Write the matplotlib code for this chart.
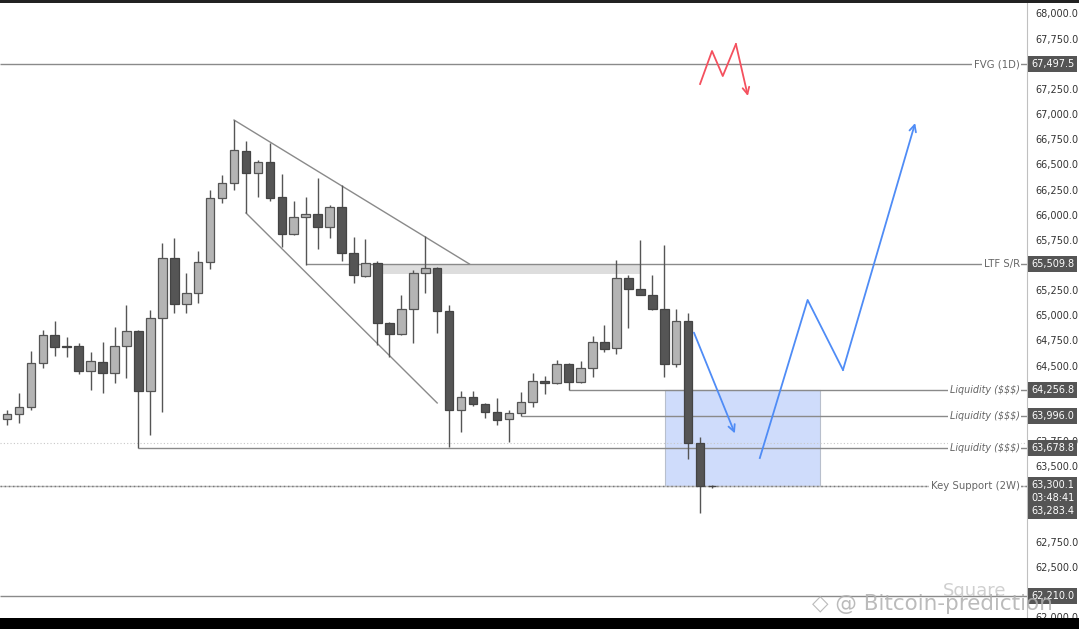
import numpy as np
import matplotlib.pyplot as plt
from matplotlib.transforms import blended_transform_factory
from matplotlib.patches import Rectangle

# -------------------- CANDLES --------------------
opens = [63970, 64019, 64089, 64526, 64805, 64695, 64695, 64447, 64536, 64427,
         64695, 64844, 64248, 64974, 65570, 65113, 65222, 65530, 66166, 66315,
         66633, 66415, 66524, 66176, 65808, 65977, 66007, 65878, 66077, 65620,
         65391, 65520, 64924, 64815, 65063, 65421, 65470, 65043, 64059, 64188,
         64119, 64039, 63970, 64029, 64139, 64347, 64328, 64516, 64337, 64477,
         64735, 64675, 65371, 65262, 65202, 65063, 64516, 64944, 63731, 63304]
highs = [64059, 64228, 64646, 64854, 64944, 64785, 64725, 64636, 64735, 64884,
         65103, 64850, 65053, 65719, 65769, 65421, 65639, 66246, 66395, 66941,
         66733, 66544, 66713, 66405, 66136, 66176, 66365, 66097, 66295, 65779,
         65759, 65540, 64934, 65202, 65451, 65788, 65480, 65103, 64248, 64248,
         64129, 64178, 64059, 64238, 64427, 64397, 64556, 64525, 64546, 64795,
         64904, 65550, 65401, 65749, 65401, 65699, 65063, 65023, 63791, 63315]
lows = [63910, 63930, 64059, 64477, 64596, 64586, 64417, 64258, 64228, 64328,
        64377, 63679, 63811, 64039, 65023, 65023, 65123, 65461, 66116, 66246,
        66017, 66176, 66136, 65679, 65800, 65500, 65659, 65769, 65540, 65321,
        65381, 64705, 64586, 64805, 64725, 65222, 64825, 63691, 63841, 64099,
        63980, 63910, 63741, 63996, 64089, 64218, 64320, 64257, 64328, 64387,
        64636, 64616, 64874, 65200, 65055, 64387, 64487, 63572, 63035, 63283]
closes = [64019, 64089, 64526, 64805, 64685, 64690, 64447, 64546, 64427, 64695,
          64844, 64248, 64974, 65570, 65113, 65222, 65530, 66166, 66315, 66643,
          66415, 66524, 66166, 65808, 65977, 66007, 65878, 66077, 65620, 65401,
          65520, 64924, 64815, 65063, 65421, 65470, 65043, 64059, 64188, 64119,
          64039, 63960, 64029, 64139, 64347, 64330, 64516, 64337, 64477, 64735,
          64665, 65371, 65262, 65202, 65063, 64516, 64944, 63731, 63300, 63300.1]

# -------------------- LEVELS --------------------
fvg_level = 67497.5
ltf_level = 65509.8
ltf_start = 25
liq_levels = [64256.8, 63996.0, 63678.8]
liq_starts = [47, 43, 11]
key_support = 63300.1
low_tag = 63283.4
bottom_level = 62210.0
dotted_level = 63735.0

# ticks hidden behind the price tags are left out
hidden_ticks = [67500, 65500, 64250, 64000, 63250, 63000, 62250]
tick_values = [v for v in range(62000, 68001, 250) if v not in hidden_ticks]
tick_labels = [f"{v:,.1f}" for v in tick_values]

# drawings: (bar index, price)
wedge_upper_x, wedge_upper_y = [19, 38.7], [66941, 65510]
wedge_lower_x, wedge_lower_y = [20, 36.0], [66017, 64129]
band_x, band_y = [31.2, 53.0], [65410, 65509.8]
zone_x, zone_y = [55.06, 68.0], [63300.1, 64256.8]
blue_down_x, blue_down_y = [57.4, 61.0], [64854, 63801]
blue_up_x = [63.0, 67.0, 69.96, 76.0]
blue_up_y = [63582, 65153, 64457, 66911]
red_x = [58.0, 59.0, 59.9, 61.0, 62.0]
red_y = [67299, 67627, 67378, 67696, 67180]

# -------------------- FIGURE --------------------
fig = plt.figure(figsize=(10.79, 6.29), dpi=100)
ax = fig.add_axes([0, 11 / 629, 1027 / 1079, 615 / 629])
ax.set_xlim(-0.586, 85.36)
ax.set_ylim(61992, 68104)

line_col = '#8a8a8a'
xs = np.arange(len(opens))
o = np.array(opens); c = np.array(closes)
up = c >= o
body_low = np.minimum(o, c)
body_h = np.maximum(np.abs(c - o), 8)

# zone and band behind candles
ax.add_patch(Rectangle((zone_x[0], zone_y[0]), zone_x[1] - zone_x[0], zone_y[1] - zone_y[0],
                       facecolor='#cfdcfb', edgecolor='#b8bfcc', lw=0.8, zorder=1))
ax.add_patch(Rectangle((band_x[0], band_y[0]), band_x[1] - band_x[0], band_y[1] - band_y[0],
                       facecolor='#dddddd', edgecolor='none', zorder=1))

# horizontal levels
xr = 85.36
ax.hlines(fvg_level, -0.6, xr, color=line_col, lw=1, zorder=2)
ax.hlines(ltf_level, ltf_start, xr, color=line_col, lw=1, zorder=2)
for lv, st in zip(liq_levels, liq_starts):
    ax.hlines(lv, st, xr, color=line_col, lw=1, zorder=2)
ax.hlines(dotted_level, -0.6, xr, color='#c8c8c8', lw=0.8, ls=(0, (1, 2)), zorder=1.5)
ax.hlines(key_support, -0.6, xr, color='#bbbbbb', lw=1, zorder=1.5)
ax.hlines(key_support, -0.6, xr, color='#777777', lw=1, ls=(0, (1, 2)), zorder=1.6)
ax.hlines(bottom_level, -0.6, xr, color=line_col, lw=1, zorder=2)

# wedge lines
ax.plot(wedge_upper_x, wedge_upper_y, color=line_col, lw=1, zorder=2)
ax.plot(wedge_lower_x, wedge_lower_y, color=line_col, lw=1, zorder=2)

# candles
ax.vlines(xs, lows, highs, color='#555555', lw=1, zorder=3)
ax.bar(xs[up], body_h[up], bottom=body_low[up], width=0.72,
       color='#b4b4b4', edgecolor='#555555', lw=0.9, zorder=4)
ax.bar(xs[~up], body_h[~up], bottom=body_low[~up], width=0.72,
       color='#555555', edgecolor='#444444', lw=0.9, zorder=4)

# projection paths
blue = '#4f8cf6'
ax.annotate('', xy=(blue_down_x[1], blue_down_y[1]), xytext=(blue_down_x[0], blue_down_y[0]),
            arrowprops=dict(arrowstyle='->', color=blue, lw=1.3, mutation_scale=12), zorder=6)
ax.plot(blue_up_x[:-1], blue_up_y[:-1], color=blue, lw=1.3, zorder=6)
ax.annotate('', xy=(blue_up_x[-1], blue_up_y[-1]), xytext=(blue_up_x[-2], blue_up_y[-2]),
            arrowprops=dict(arrowstyle='->', color=blue, lw=1.3, mutation_scale=12,
                            shrinkA=0, shrinkB=0), zorder=6)
red = '#f4505e'
ax.plot(red_x[:-1], red_y[:-1], color=red, lw=1.3, zorder=6)
ax.annotate('', xy=(red_x[-1], red_y[-1]), xytext=(red_x[-2], red_y[-2]),
            arrowprops=dict(arrowstyle='->', color=red, lw=1.3, mutation_scale=12,
                            shrinkA=0, shrinkB=0), zorder=6)

# axis styling
for s in ['top', 'left', 'bottom']:
    ax.spines[s].set_visible(False)
ax.spines['right'].set_color('#c0c0c0')
ax.xaxis.set_visible(False)
ax.yaxis.tick_right()
ax.set_yticks(tick_values)
ax.set_yticklabels(tick_labels)
ax.tick_params(axis='y', length=0, pad=6, labelsize=7, labelcolor='#333333')

# line labels and price tags
trans = blended_transform_factory(ax.transAxes, ax.transData)
line_labels = [(fvg_level, 'FVG (1D)', 'normal', 7.3), (ltf_level, 'LTF S/R', 'normal', 7.3),
               (liq_levels[0], 'Liquidity ($$$)', 'italic', 6.9),
               (liq_levels[1], 'Liquidity ($$$)', 'italic', 6.9),
               (liq_levels[2], 'Liquidity ($$$)', 'italic', 6.9),
               (key_support, 'Key Support (2W)', 'normal', 7.3)]
for lv, txt, st, fs in line_labels:
    ax.text(0.993, lv, txt, transform=trans, ha='right', va='center', fontsize=fs,
            style=st, color='#666666', zorder=7,
            bbox=dict(boxstyle='square,pad=0.15', fc='white', ec='none'))

tag_box = dict(boxstyle='square,pad=0.3', fc='#555555', ec='none')
for lv in [fvg_level, ltf_level] + liq_levels + [bottom_level]:
    ax.text(1.004, lv, f"{lv:,.1f}", transform=trans, ha='left', va='center', fontsize=7,
            color='white', zorder=8, clip_on=False, bbox=tag_box)
ax.text(1.004, key_support + 60, f"{key_support:,.1f}\n03:48:41\n{low_tag:,.1f}",
        transform=trans, ha='left', va='top', fontsize=7, color='white', zorder=8,
        linespacing=1.35, clip_on=False, bbox=tag_box)

# frame bars and watermark
fig.patches.append(Rectangle((0, 626 / 629), 1, 3 / 629, transform=fig.transFigure,
                             facecolor='#222222', edgecolor='none', zorder=20))
fig.patches.append(Rectangle((0, 0), 1, 11 / 629, transform=fig.transFigure,
                             facecolor='black', edgecolor='none', zorder=20))
fig.text(975 / 1079, 1 - 591 / 629, 'Square', fontsize=13, color='#c4c4c4', alpha=0.8,
         ha='center', va='center', zorder=15)
fig.text(812 / 1079, 1 - 604 / 629, '◇ @ Bitcoin-prediction', fontsize=15.5, color='#b0b0b0',
         alpha=0.85, ha='left', va='center', zorder=15)

fig.savefig('out.png', dpi=100, facecolor='white')
